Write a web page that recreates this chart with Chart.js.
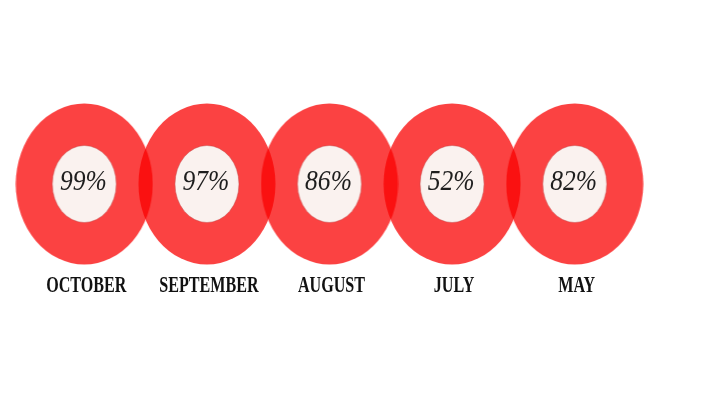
<!DOCTYPE html>
<html>
<head>
<meta charset="utf-8">
<script src="https://cdn.jsdelivr.net/npm/chart.js@4"></script>
<style>
  html, body { margin: 0; padding: 0; background: #ffffff; }
  #wrap { width: 715px; height: 402px; position: relative; }
</style>
</head>
<body>
<div id="wrap"><canvas id="c" width="715" height="402"></canvas></div>
<script>
// ---- data ----
const months = ['OCTOBER', 'SEPTEMBER', 'AUGUST', 'JULY', 'MAY'];
const percentValues = [99, 97, 86, 52, 82];
const rowLevel = [0, 0, 0, 0, 0];

// ---- ring marker (elliptical donut) ----
function makeRing(w, h, iw, ih) {
  const cv = document.createElement('canvas');
  cv.width = w; cv.height = h;
  const g = cv.getContext('2d');
  g.fillStyle = 'rgba(250,0,0,0.74)';
  g.beginPath();
  g.ellipse(w / 2, h / 2, w / 2 - 0.5, h / 2 - 0.5, 0, 0, Math.PI * 2);
  g.fill();
  g.fillStyle = '#faf2ef';
  g.beginPath();
  g.ellipse(w / 2, h / 2, iw / 2, ih / 2, 0, 0, Math.PI * 2);
  g.fill();
  g.strokeStyle = 'rgba(190,70,70,0.45)';
  g.lineWidth = 1;
  g.stroke();
  return cv;
}
const ring = makeRing(138, 162, 64, 77);

const textPlugin = {
  id: 'ringText',
  afterDatasetsDraw(chart) {
    const ctx = chart.ctx;
    const meta = chart.getDatasetMeta(0);
    ctx.save();
    meta.data.forEach((el, i) => {
      // percentage inside the ring
      ctx.save();
      ctx.translate(el.x - 1, el.y - 2);
      ctx.scale(0.88, 1);
      ctx.fillStyle = '#1e1e1e';
      ctx.font = 'italic 29px "Liberation Serif", serif';
      ctx.textAlign = 'center';
      ctx.textBaseline = 'middle';
      ctx.fillText(percentValues[i] + '%', 0, 0);
      ctx.restore();
      // month label under the ring (condensed bold serif)
      ctx.save();
      ctx.translate(el.x + 2, 292);
      ctx.scale(0.7, 1);
      ctx.font = 'bold 23px "Liberation Serif", serif';
      ctx.textAlign = 'center';
      ctx.textBaseline = 'alphabetic';
      ctx.fillStyle = '#111111';
      ctx.fillText(months[i], 0, 0);
      ctx.restore();
    });
    ctx.restore();
  }
};

new Chart(document.getElementById('c'), {
  type: 'line',
  data: {
    labels: months,
    datasets: [{
      data: rowLevel,
      showLine: false,
      pointStyle: ring,
      pointHoverStyle: ring,
      pointRadius: 69,
      pointHoverRadius: 69
    }]
  },
  options: {
    responsive: false,
    animation: false,
    events: [],
    layout: { autoPadding: false, padding: { left: 23, right: 79, top: 103, bottom: 137 } },
    plugins: { legend: { display: false }, tooltip: { enabled: false } },
    scales: {
      x: { type: 'category', offset: true, display: false },
      y: { min: -1, max: 1, display: false }
    }
  },
  plugins: [textPlugin]
});
</script>
</body>
</html>
